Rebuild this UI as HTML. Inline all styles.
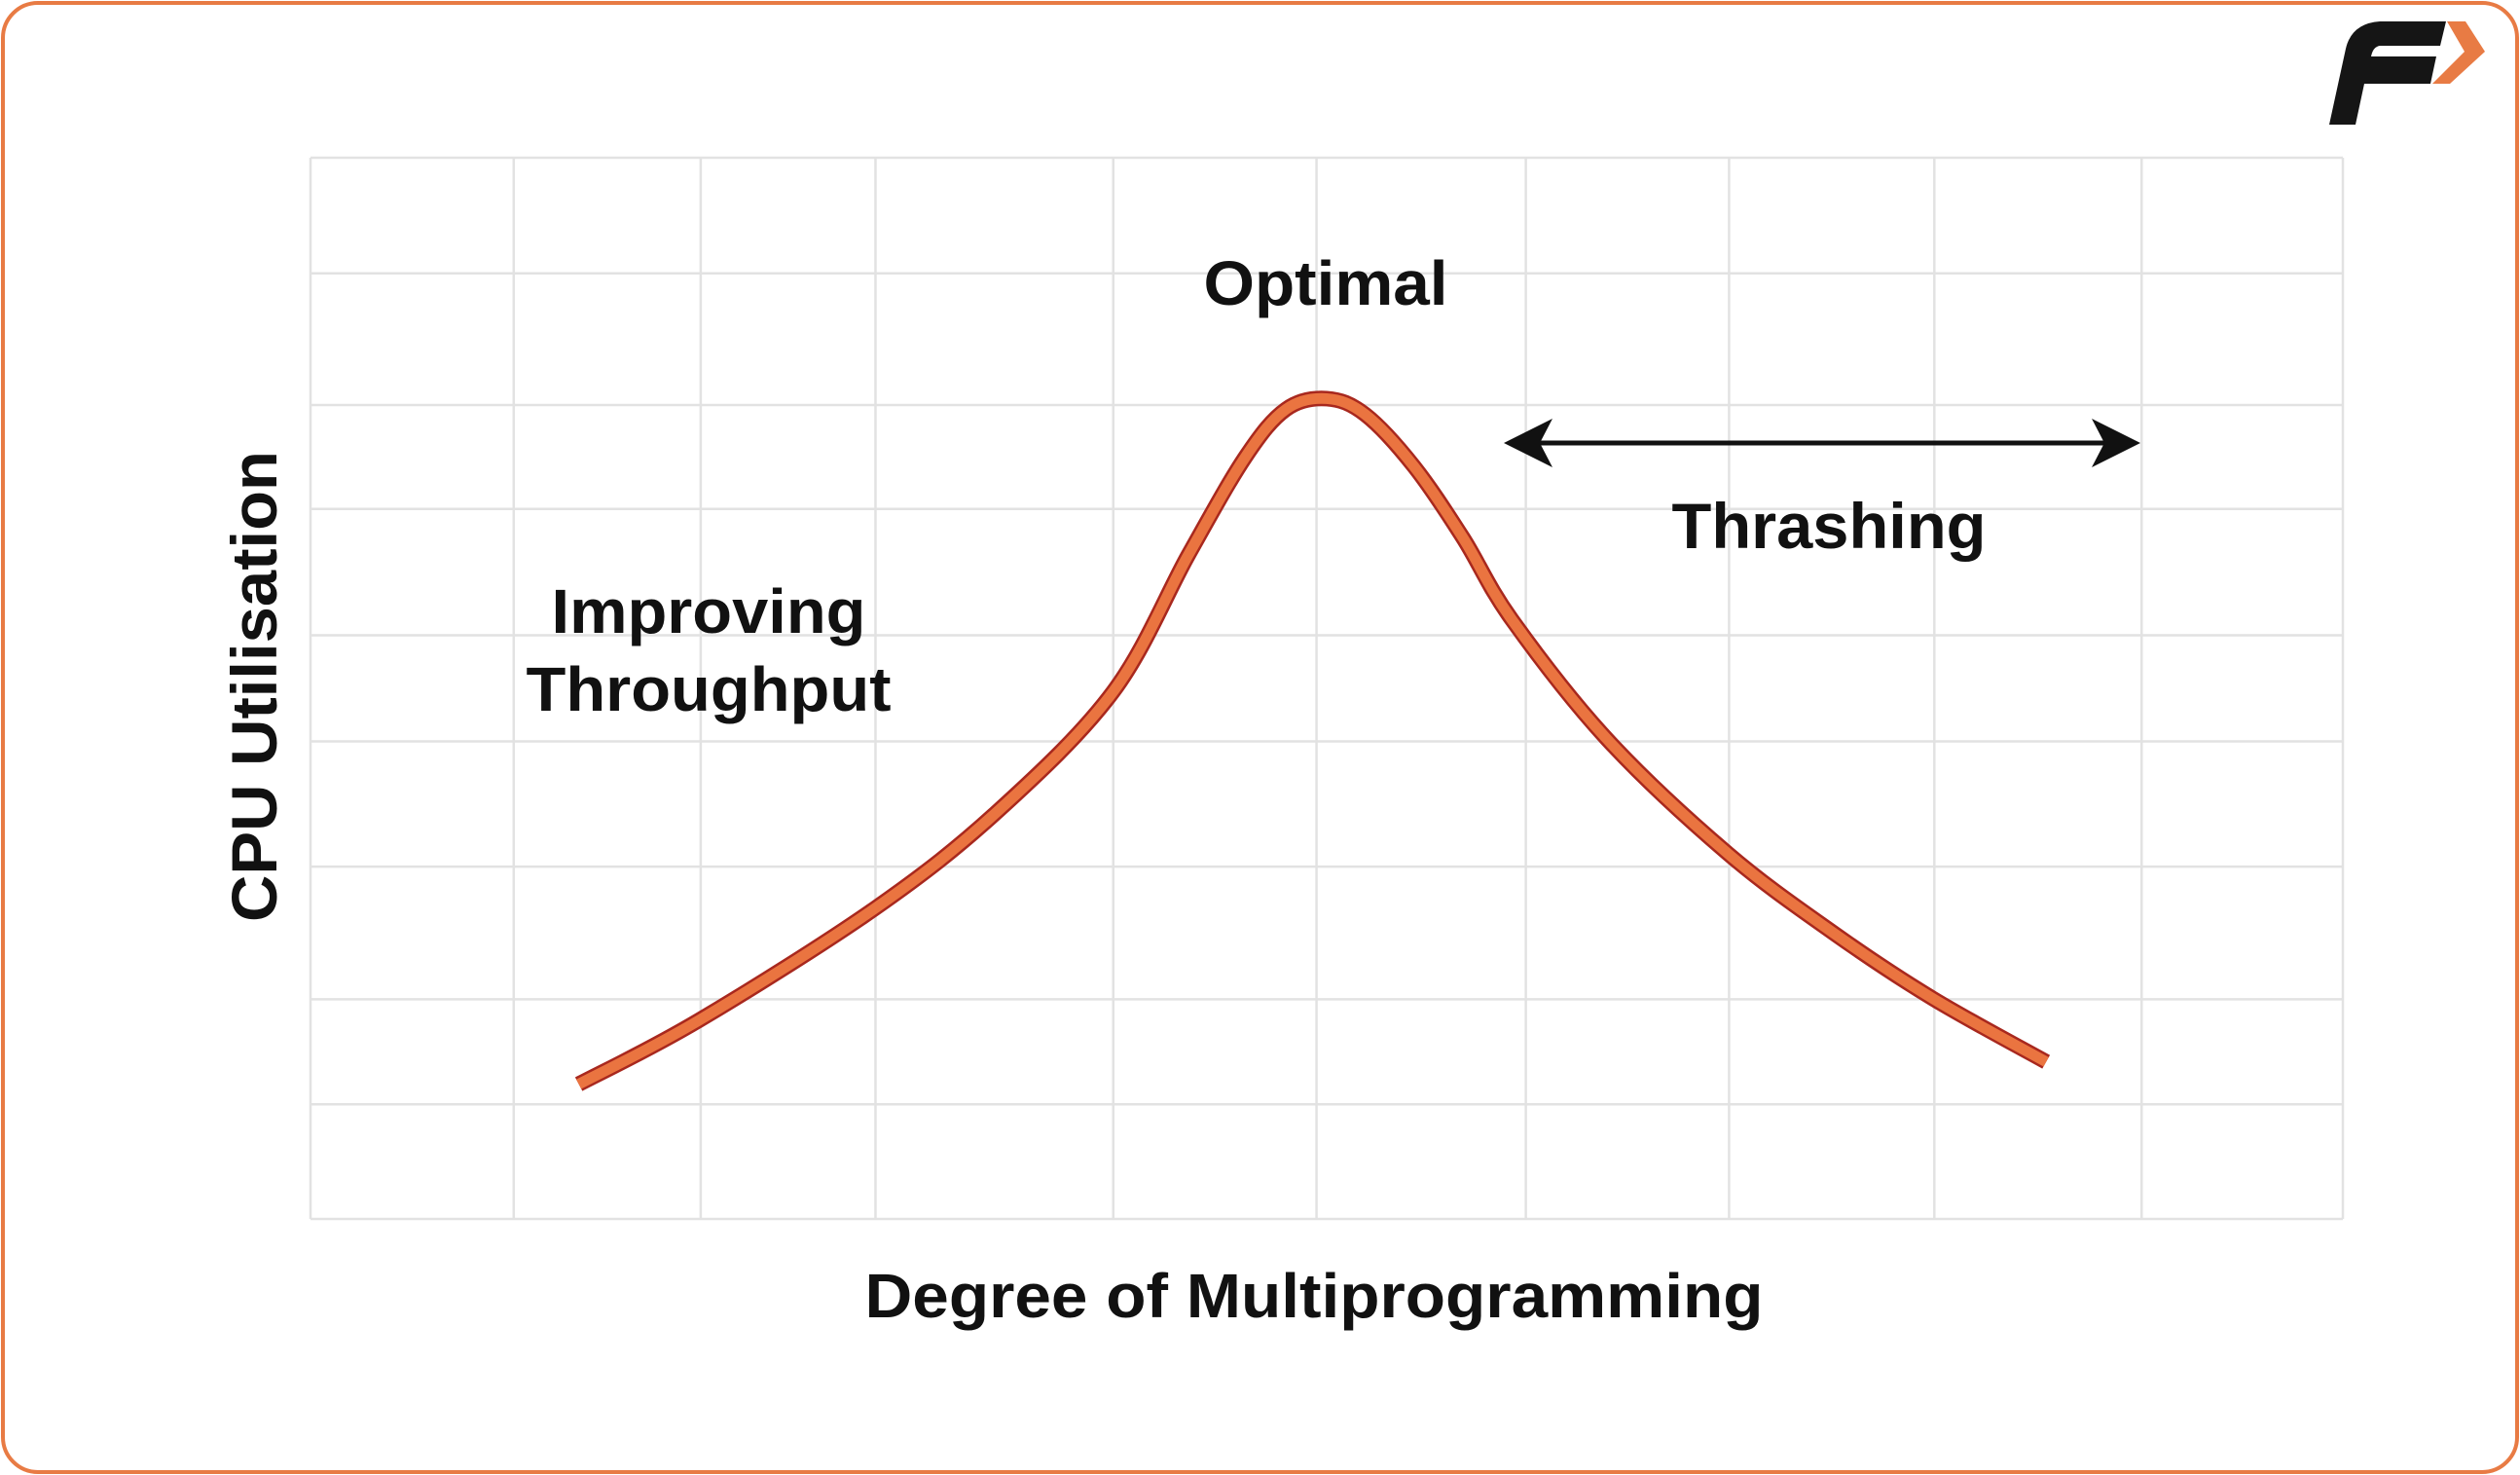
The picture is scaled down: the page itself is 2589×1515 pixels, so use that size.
<!DOCTYPE html>
<html><head><meta charset="utf-8"><style>
html,body{margin:0;padding:0;background:#fff;}
svg{display:block;}
text{font-family:"Liberation Sans",sans-serif;font-weight:bold;fill:#111;}
</style></head><body>
<svg id="chart" width="2589" height="1515" viewBox="0 0 2589 1515" xmlns="http://www.w3.org/2000/svg">
<rect x="3" y="3" width="2583" height="1509" rx="36" ry="36" fill="#fff" stroke="#E87B44" stroke-width="4"/>
<g>
<path d="M2393,128 L2410,50 Q2416,24 2445,22 L2513,22 L2507,47 L2445,47 Q2438,48 2436,58 L2503,58 L2497,86 L2429,86 L2420,128 Z" fill="#151515"/>
<path d="M2514,22 L2533,22 L2553,53 L2517,86 L2499,86 L2532,53 Z" fill="#E87B44"/>
</g>
<g id="grid"></g>
<g id="curve"></g>
<g>
<line x1="1580" y1="455" x2="2164" y2="455" stroke="#111" stroke-width="5"/>
<path d="M1545,455 L1595,430 L1582,455 L1595,480 Z" fill="#111"/>
<path d="M2199,455 L2149,430 L2162,455 L2149,480 Z" fill="#111"/>
</g>
<text x="1362" y="313" font-size="64" text-anchor="middle" textLength="251" lengthAdjust="spacingAndGlyphs">Optimal</text>
<text x="1879" y="563" font-size="66" text-anchor="middle" textLength="323" lengthAdjust="spacingAndGlyphs">Thrashing</text>
<text x="728" y="650" font-size="64" text-anchor="middle" textLength="323" lengthAdjust="spacingAndGlyphs">Improving</text>
<text x="728" y="730" font-size="64" text-anchor="middle" textLength="375" lengthAdjust="spacingAndGlyphs">Throughput</text>
<text x="1350" y="1353" font-size="64" text-anchor="middle" textLength="923" lengthAdjust="spacingAndGlyphs">Degree of Multiprogramming</text>
<text transform="translate(284,705) rotate(-90)" x="0" y="0" font-size="66" text-anchor="middle" textLength="484" lengthAdjust="spacingAndGlyphs">CPU Utilisation</text>
</svg>
<script>
const gridXLines = [0, 10, 19.2, 27.8, 39.5, 49.5, 59.8, 69.8, 79.9, 90.1, 100];
const gridYLines = [0, 10.8, 20.7, 33.2, 45.0, 55.0, 66.9, 76.7, 89.1, 100];
const curveX = [13.2, 19.1, 27.8, 33.8, 39.5, 43.2, 46.0, 48.0, 50.0, 51.9, 54.3, 56.7, 59.1, 63.8, 69.7, 74.9, 79.8, 85.4];
const curveY = [12.7, 18.7, 29.3, 38.4, 49.7, 62.6, 71.8, 76.3, 77.3, 75.8, 70.9, 64.2, 56.5, 45.2, 34.5, 27.0, 20.8, 14.8];

const X0 = 319, X1 = 2407, Y0 = 1252, Y1 = 162;
function sx(v){ return X0 + (X1 - X0) * v / 100; }
function sy(v){ return Y0 - (Y0 - Y1) * v / 100; }
const NS = 'http://www.w3.org/2000/svg';
const grid = document.getElementById('grid');
gridXLines.forEach(function(v){
  const l = document.createElementNS(NS, 'line');
  l.setAttribute('x1', sx(v)); l.setAttribute('x2', sx(v));
  l.setAttribute('y1', Y1); l.setAttribute('y2', Y0);
  l.setAttribute('stroke', '#e2e2e2'); l.setAttribute('stroke-width', '2.5');
  
  
  grid.appendChild(l);
});
gridYLines.forEach(function(v){
  const l = document.createElementNS(NS, 'line');
  l.setAttribute('x1', X0); l.setAttribute('x2', X1);
  l.setAttribute('y1', sy(v)); l.setAttribute('y2', sy(v));
  l.setAttribute('stroke', '#e2e2e2'); l.setAttribute('stroke-width', '2.5');
  
  
  grid.appendChild(l);
});
const pts = curveX.map(function(v, i){ return [sx(v), sy(curveY[i])]; });
let d = 'M' + pts[0][0] + ',' + pts[0][1];
for (let i = 0; i < pts.length - 1; i++) {
  const p0 = pts[Math.max(0, i - 1)], p1 = pts[i], p2 = pts[i + 1], p3 = pts[Math.min(pts.length - 1, i + 2)];
  const c1x = p1[0] + (p2[0] - p0[0]) / 6, c1y = p1[1] + (p2[1] - p0[1]) / 6;
  const c2x = p2[0] - (p3[0] - p1[0]) / 6, c2y = p2[1] - (p3[1] - p1[1]) / 6;
  d += ' C' + c1x + ',' + c1y + ' ' + c2x + ',' + c2y + ' ' + p2[0] + ',' + p2[1];
}
const curve = document.getElementById('curve');
const outer = document.createElementNS(NS, 'path');
outer.setAttribute('d', d); outer.setAttribute('fill', 'none');
outer.setAttribute('stroke', '#A8281E'); outer.setAttribute('stroke-width', '16');


curve.appendChild(outer);
const inner = document.createElementNS(NS, 'path');
inner.setAttribute('d', d); inner.setAttribute('fill', 'none');
inner.setAttribute('stroke', '#EA7440'); inner.setAttribute('stroke-width', '11');


curve.appendChild(inner);
</script>
</body></html>
